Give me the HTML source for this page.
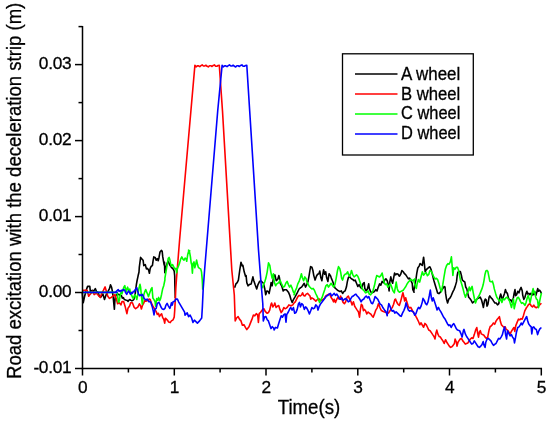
<!DOCTYPE html>
<html><head><meta charset="utf-8"><title>Road excitation</title>
<style>html,body{margin:0;padding:0;background:#fff}svg{display:block}</style></head>
<body>
<svg width="550" height="422" viewBox="0 0 550 422">
<rect width="550" height="422" fill="#fff"/>
<g>
<polyline points="82.2,292.4 82.7,298.4 83.3,302.7 84.4,297.3 86.0,290.7 87.6,286.4 89.8,286.4 90.4,291.8 91.5,290.7 92.5,290.2 93.6,291.3 95.3,288.6 96.4,291.3 98.0,292.4 99.4,296.2 100.7,297.3 101.8,295.6 102.9,294.0 104.5,299.4 105.6,296.2 106.7,293.4 108.4,290.7 109.5,288.6 110.5,284.7 111.6,287.4 112.5,291.8 113.3,298.4 114.4,309.3 114.7,303.3 115.3,296.6 116.3,294.8 117.2,294.8 118.6,294.3 120.1,295.2 121.5,295.7 122.4,298.1 123.4,297.6 124.3,299.5 125.7,300.0 127.2,300.4 128.1,301.4 129.1,300.0 130.0,299.5 131.0,300.4 131.9,300.9 132.8,300.4 133.8,299.5 134.6,296.6 135.2,293.8 135.7,290.0 136.4,284.3 137.1,280.5 138.1,275.8 139.0,272.0 139.3,267.3 140.6,257.4 142.0,259.1 143.1,260.2 143.8,265.6 145.3,264.6 146.4,268.9 147.4,268.4 148.6,270.0 149.4,273.3 150.2,268.4 151.3,266.2 152.4,265.6 153.1,260.7 153.8,256.9 155.1,257.4 156.2,260.2 157.3,258.6 158.2,260.7 158.9,258.0 160.0,252.0 161.3,250.4 162.2,251.4 162.7,256.4 163.6,261.8 164.2,265.1 164.5,262.4 164.8,272.7 165.4,268.4 166.0,267.3 167.1,263.4 168.2,261.3 169.8,265.1 171.4,267.3 173.1,268.9 174.2,271.1 174.7,276.0 174.9,285.8 175.3,298.0" fill="none" stroke="#000" stroke-width="1.6" stroke-linejoin="round" stroke-linecap="butt"/>
<polyline points="234.6,287.8 235.9,283.9 237.2,282.6 238.4,280.1 239.7,270.5 241.0,262.2 242.3,266.0 242.9,265.4 244.2,271.8 245.5,276.2 246.1,275.6 246.8,282.6 248.0,285.8 249.3,284.6 251.2,283.9 252.1,280.1 252.9,276.9 253.8,280.7 255.1,284.6 256.7,289.0 258.0,284.6 259.6,281.4 260.8,280.7 262.1,282.0 263.4,283.3 264.7,288.4 265.7,294.8 267.0,290.9 268.5,291.6 269.1,293.5 270.4,287.1 271.1,282.6 272.1,285.8 273.0,280.7 273.9,275.6 274.9,274.9 276.2,280.7 277.7,279.4 278.8,275.6 279.4,277.5 280.3,283.3 281.9,286.5 283.2,290.9 284.5,289.7 286.4,289.7 288.4,292.2 289.6,294.8 290.9,299.3 292.2,302.5 293.3,299.9 295.2,296.7 297.2,292.9 299.1,289.0 300.4,287.8 301.6,287.1 302.9,285.2 304.2,283.3 305.5,287.1 306.8,284.6 308.0,281.4 309.1,275.6 309.9,270.5 310.6,266.6 311.9,267.3 312.9,270.5 313.8,275.6 315.1,280.1 316.4,276.2 317.6,274.3 318.9,273.7 319.8,271.1 320.8,277.5 321.9,280.7 322.8,274.3 323.6,269.8 324.7,274.3 325.7,271.8 326.6,277.5 327.9,281.4 329.1,273.7 330.4,275.6 331.3,278.1 332.4,280.7 333.6,283.9 334.9,287.8 336.2,289.0 337.5,290.3 338.8,290.9 340.0,291.6 341.3,290.9 342.6,293.5 343.9,291.6 345.1,290.9 346.4,287.1 347.4,281.4 348.4,277.5 349.6,276.2 350.1,277.5 351.4,278.8 352.7,279.4 354.0,280.7 355.2,280.1 356.5,283.3 357.8,286.5 359.1,284.6 360.4,287.1 361.6,288.4 362.9,283.9 364.2,282.6 364.8,288.4 366.1,290.9 367.4,289.0 368.7,283.9 369.3,288.4 370.6,291.6 371.9,292.9 373.1,292.2 374.4,291.6 375.7,289.7 377.0,290.9 378.3,287.1 379.6,283.9 380.8,285.2 382.1,281.4 383.4,282.6 384.7,280.1 385.9,278.8 387.2,280.7 388.5,285.8 389.1,290.9 389.8,282.0 390.8,276.9 391.7,280.7 392.6,283.3 393.6,278.1 394.6,273.0 395.6,274.9 396.8,273.7 398.1,274.3 399.4,276.2 400.7,274.3 401.9,270.5 403.2,271.8 404.5,273.7 405.8,274.9 407.1,276.9 408.4,278.8 409.6,278.1 410.9,280.7 412.2,283.3 412.8,289.7 414.1,292.2 413.7,291.7 414.6,285.9 415.9,279.6 416.8,273.1 417.8,268.0 419.1,266.1 420.1,263.6 421.0,264.2 422.3,265.5 423.6,257.2 424.4,264.2 425.2,271.9 426.1,269.9 427.4,268.7 428.7,267.4 429.9,266.8 431.2,269.9 432.5,275.1 433.8,280.2 435.1,284.7 436.4,289.1 437.6,293.0 438.9,293.6 440.2,292.4 441.5,290.4 442.8,288.5 444.0,286.6 445.0,287.0 445.6,293.4 446.5,299.1 447.6,303.0 448.8,299.1 450.1,297.9 451.4,295.3 452.7,292.1 454.0,289.6 455.2,286.4 456.5,281.9 457.2,275.5 457.8,272.3 459.1,271.6 460.4,271.6 461.4,275.5 462.3,279.9 463.6,281.2 464.8,281.9 465.7,287.0 466.8,288.9 467.8,293.4 468.7,297.2 469.9,298.5 471.2,300.4 472.5,303.0 473.8,301.7 475.7,300.4 477.6,298.5 478.9,297.9 480.2,297.2 481.5,299.8 482.8,304.9 483.4,307.5 484.4,301.1 485.3,299.1 486.2,299.8 487.0,306.2 487.9,304.3 489.1,297.2 489.8,295.9 491.1,297.9 492.4,299.1 493.6,301.1 494.9,303.0 496.2,303.0 497.5,304.9 498.8,303.6 499.8,297.2 500.7,294.0 501.6,297.2 502.6,299.8 503.6,295.9 504.5,293.4 505.4,289.6 506.2,292.1 507.4,293.4 508.4,297.9 509.6,300.4 510.9,299.8 512.2,302.4 513.5,297.2 514.1,293.4 515.0,289.6 515.6,295.6 516.7,294.6 517.8,291.3 518.9,292.9 520.0,289.6 521.1,287.4 522.2,290.7 522.7,295.1 523.8,299.4 524.9,297.3 526.0,293.4 526.9,291.3 527.6,294.0 528.7,293.4 529.8,294.6 530.9,293.4 532.0,295.1 532.8,293.4 533.6,294.6 534.7,291.8 535.8,295.6 536.9,291.8 537.7,288.6 538.5,291.3 539.6,290.2 540.7,291.8 541.3,293.4" fill="none" stroke="#000" stroke-width="1.6" stroke-linejoin="round" stroke-linecap="butt"/>
<polyline points="82.2,290.7 83.8,290.2 85.5,290.2 87.1,290.2 88.7,296.2 89.8,294.6 90.9,293.4 92.5,291.3 94.2,294.6 96.4,292.9 98.5,295.6 100.2,297.3 101.8,293.4 103.5,290.2 105.1,286.9 106.2,290.7 107.8,296.2 109.5,298.4 111.6,297.3 113.3,295.6 114.9,294.6 116.5,299.4 117.6,303.8 119.3,302.7 120.9,304.9 122.0,301.6 123.6,301.6 125.3,307.1 126.9,313.6 128.0,308.2 129.6,306.0 130.7,302.7 132.4,302.7 134.0,307.1 135.6,308.7 137.8,307.1 139.4,303.8 140.4,305.6 141.4,308.9 142.6,305.1 143.6,303.4 144.7,300.7 145.8,301.3 146.9,300.7 148.0,300.2 149.1,299.1 150.2,299.6 151.3,302.9 152.9,306.2 154.6,308.9 156.2,311.6 157.3,314.4 158.4,313.3 159.4,316.6 160.6,314.9 161.6,313.8 162.7,317.6 163.8,319.3 164.7,323.1 165.4,318.2 167.1,319.8 168.7,322.0 170.2,322.6 171.4,320.9 173.1,319.8 174.2,317.1 174.7,310.6 175.3,299.6 175.8,288.7 176.4,280.0 179.6,240.0 194.9,65.3 196.1,66.8 197.3,65.9 198.6,65.9 199.8,66.7 201.0,65.7 202.2,64.9 203.4,66.0 204.7,66.0 205.9,65.2 207.1,66.3 208.3,66.9 209.5,65.7 210.8,65.7 212.0,66.5 213.2,65.4 214.4,64.9 215.6,66.2 216.9,66.2 218.1,65.5 219.3,65.3 222.5,111.0 231.8,270.0 234.3,295.0 235.2,320.9 236.6,318.0 238.1,316.6 239.6,319.4 241.0,320.9 242.4,325.3 243.9,324.6 245.4,327.4 246.8,329.6 249.0,326.7 250.4,323.1 251.9,319.4 253.4,315.1 254.8,315.8 256.3,313.6 257.7,315.1 258.4,322.4 259.2,313.6 260.6,312.2 262.8,309.3 264.0,308.8 265.2,311.4 267.2,313.3 268.4,312.6 269.7,310.1 271.0,304.3 271.6,303.0 272.9,306.9 274.2,304.9 274.8,303.0 276.1,307.5 277.4,306.2 278.7,305.6 279.9,309.4 281.2,312.6 282.5,310.7 283.8,307.5 285.1,308.8 286.4,308.1 287.6,306.9 288.9,304.9 290.2,305.6 291.5,305.6 292.8,304.9 294.0,303.0 295.3,301.8 296.6,299.2 297.9,296.6 299.1,295.4 300.4,296.0 301.7,294.7 302.6,292.8 303.6,295.4 304.9,296.0 306.2,294.1 307.5,293.4 308.8,294.7 310.0,296.0 310.7,299.2 311.9,297.9 313.2,298.6 314.5,299.8 315.8,301.1 317.1,299.8 318.4,298.6 319.6,299.2 320.9,300.5 322.2,299.8 323.5,299.2 325.0,297.9 325.2,296.6 326.5,295.4 327.8,294.7 329.7,294.1 331.0,297.3 332.3,299.2 333.6,301.8 334.2,299.2 335.5,302.4 336.8,299.2 338.0,297.3 339.3,299.2 340.6,296.0 341.9,299.2 343.1,302.4 344.4,303.7 345.7,301.8 347.0,297.3 348.3,296.0 349.6,299.2 350.8,301.1 352.1,304.9 353.4,301.8 354.7,306.2 355.9,308.1 357.2,310.1 358.5,312.0 359.5,317.1 360.4,309.4 361.3,304.3 362.4,305.6 363.4,310.7 364.3,309.4 365.6,310.7 366.8,313.9 368.1,312.0 369.4,313.3 370.7,313.9 371.9,315.8 373.2,317.1 374.5,313.9 375.8,310.1 377.1,308.1 378.4,303.7 378.8,304.2 380.1,308.0 381.4,310.6 382.7,311.2 384.6,311.9 386.5,312.5 388.4,313.1 389.7,311.2 391.0,309.3 392.3,307.4 393.6,304.2 394.8,299.7 395.5,299.1 396.8,302.3 398.0,304.2 399.3,305.5 400.6,301.6 401.9,296.5 402.9,292.7 403.8,296.5 404.7,301.0 405.7,297.8 406.7,301.6 408.0,305.5 409.3,308.0 410.8,307.4 412.1,309.9 413.4,312.5 414.7,313.8 415.9,316.4 417.2,318.9 418.5,321.5 419.8,324.7 421.1,322.8 422.4,325.3 423.6,327.2 424.9,323.4 425.0,323.7 426.3,324.9 427.6,327.5 428.8,330.1 430.1,330.7 431.4,332.6 432.7,334.6 434.0,336.5 435.0,339.0 435.9,333.3 436.8,330.1 437.8,333.9 439.1,336.5 440.4,337.1 441.6,339.0 442.9,340.9 444.2,343.5 445.5,339.7 446.8,342.2 448.0,344.1 449.3,346.1 450.6,347.4 451.9,346.7 453.1,345.4 454.4,343.5 455.1,339.0 456.4,342.2 457.0,346.1 458.0,342.2 458.9,340.9 460.2,339.0 461.5,338.4 462.8,340.9 464.0,342.2 465.3,344.1 466.6,343.5 467.9,342.9 469.1,340.9 470.4,339.0 471.7,337.8 473.0,338.4 474.3,334.6 475.6,330.1 476.8,327.5 477.7,333.3 478.5,337.1 479.4,332.0 480.3,330.7 481.3,333.9 482.6,334.6 483.9,335.2 485.1,337.1 486.4,338.4 487.7,337.1 488.4,333.3 489.2,329.4 490.3,326.2 490.9,326.2 492.2,324.9 493.4,323.0 494.7,324.3 496.0,321.1 497.3,319.2 498.6,317.9 499.4,316.6 500.5,321.8 501.5,324.9 502.8,326.2 504.1,327.5 505.3,326.9 506.2,329.4 507.5,330.1 508.8,332.0 510.1,333.9 511.4,331.4 512.6,329.4 513.9,327.5 514.8,331.4 515.8,325.6 517.1,322.4 518.4,319.2 519.7,319.8 521.0,318.6 522.2,319.2 523.5,315.4 524.8,310.9 526.1,308.3 527.4,306.4 528.6,304.5 529.9,303.8 531.2,305.8 532.5,307.0 533.8,305.1 535.0,307.0 536.3,307.7 537.6,307.0 538.9,305.8 540.1,304.5 541.4,303.2" fill="none" stroke="#ff0000" stroke-width="1.6" stroke-linejoin="round" stroke-linecap="butt"/>
<polyline points="82.0,292.4 117.0,292.4 117.2,292.4 117.7,296.6 118.5,302.3 119.4,300.4 120.1,295.7 121.0,292.4 122.0,293.8 122.9,290.0 123.8,287.2 124.8,285.7 125.5,289.1 126.2,291.9 127.0,288.6 127.6,287.2 128.3,289.5 129.1,291.9 129.8,289.1 130.5,292.9 131.4,294.8 132.4,297.1 133.3,298.5 134.3,295.7 135.2,294.8 136.2,297.6 136.8,299.5 137.6,295.7 138.3,291.9 139.0,288.1 140.0,284.3 140.6,287.2 141.2,293.8 141.9,300.4 142.3,304.2 143.1,298.5 143.8,294.8 144.7,291.9 145.7,289.5 146.6,291.9 147.6,294.3 148.5,296.6 149.4,293.8 150.4,291.0 151.3,288.6 152.0,287.6 152.9,298.0 154.0,299.6 155.1,301.8 155.6,306.2 156.7,298.6 157.8,300.2 158.6,297.4 159.7,300.7 160.6,298.6 161.6,294.2 162.7,288.7 163.8,285.4 164.9,280.0 164.9,278.2 166.0,271.6 167.1,265.1 168.2,258.6 169.1,257.4 169.8,259.6 170.6,263.4 171.4,266.2 172.6,264.6 173.6,266.7 174.7,268.9 175.8,268.4 176.7,272.7 177.4,268.4 178.6,265.6 179.6,262.9 180.7,259.1 181.8,256.9 182.9,259.1 184.0,260.2 185.1,258.0 186.2,259.1 186.7,261.3 187.8,254.2 188.9,250.4 189.8,250.9 188.5,250.1 189.5,251.8 190.4,256.6 191.2,263.1 191.8,264.9 192.4,273.1 193.0,263.7 194.0,261.9 194.8,267.8 195.6,264.9 196.6,260.1 197.5,264.3 198.3,267.2 199.5,268.4 200.7,269.0 201.5,271.9 202.2,279.1 202.5,285.0 202.7,289.7" fill="none" stroke="#00ff00" stroke-width="1.6" stroke-linejoin="round" stroke-linecap="butt"/>
<polyline points="262.5,288.4 262.9,285.8 264.7,282.0 265.9,278.1 267.2,271.8 268.5,262.8 269.8,265.4 270.8,271.8 272.1,278.1 273.4,273.7 274.3,282.0 275.6,285.8 276.8,283.9 278.8,282.6 280.0,280.1 281.3,283.3 283.2,287.1 284.5,286.5 285.8,283.3 287.1,281.4 288.4,284.6 289.6,287.1 290.9,285.2 292.2,288.4 293.5,292.2 294.7,293.5 294.0,294.8 295.2,290.9 296.5,288.4 297.8,283.9 299.1,281.4 300.4,277.5 301.4,273.7 302.3,277.5 303.6,280.7 304.8,276.9 306.1,278.8 307.0,282.0 308.0,283.9 309.3,286.5 310.6,287.8 311.9,289.0 313.1,288.4 314.4,290.3 315.7,293.5 317.0,296.1 318.3,299.3 319.6,302.5 320.8,299.9 322.1,297.4 323.4,293.5 324.7,289.7 325.9,285.8 327.2,284.6 328.5,287.1 329.8,285.2 331.1,283.3 332.4,285.2 333.6,287.1 334.9,284.6 336.2,278.1 337.5,270.5 338.5,266.6 339.8,268.6 340.7,272.4 341.6,278.1 342.6,280.1 343.9,275.6 345.1,274.3 346.4,273.7 347.7,271.8 348.4,274.3 349.6,276.2 350.9,272.4 351.5,270.5 352.8,274.9 354.1,276.9 355.0,276.2 356.5,274.9 357.8,276.2 359.1,279.4 360.4,283.3 361.6,287.1 362.9,289.7 364.2,290.9 365.5,292.9 366.8,292.2 368.0,290.9 369.3,294.1 370.6,294.8 371.9,292.9 373.1,290.3 374.4,285.8 375.7,279.4 376.7,275.6 378.0,276.2 379.6,276.9 380.8,275.6 382.1,273.0 383.1,277.5 384.0,282.0 385.3,284.6 386.6,283.9 387.9,287.1 389.1,285.8 390.4,283.9 391.7,287.1 393.0,290.9 394.3,292.9 395.6,285.8 396.2,282.0 397.2,288.4 398.1,290.9 399.4,292.2 400.7,291.6 401.9,290.9 403.2,290.3 404.5,288.4 405.8,286.5 407.1,283.9 408.4,282.0 409.6,280.7 410.9,279.4 412.2,280.7 413.5,280.1 415.0,278.8 414.0,281.5 415.2,285.9 416.3,288.5 417.2,283.4 418.4,279.6 419.7,282.1 421.0,277.0 422.3,271.9 423.6,275.1 424.8,273.8 426.1,272.5 427.4,275.7 428.7,274.4 429.9,270.6 431.2,271.2 432.5,273.8 433.8,277.0 435.1,278.9 436.4,278.3 437.6,279.6 438.9,283.4 440.2,288.5 441.5,291.7 442.8,284.7 444.0,277.0 445.3,269.3 446.6,265.5 447.9,263.6 449.1,264.2 450.4,261.6 451.4,256.9 452.0,264.0 452.9,275.5 453.7,267.8 455.0,269.1 456.3,267.2 457.5,267.2 458.4,269.7 459.3,274.2 460.4,279.9 461.6,283.8 462.9,288.3 464.2,293.4 465.5,297.2 466.8,293.4 468.0,292.1 469.3,287.0 470.3,290.8 471.2,288.3 472.1,286.4 473.1,292.1 474.4,298.5 475.5,303.0 476.7,299.8 478.0,297.2 479.3,295.3 480.6,292.1 481.9,288.9 483.1,285.1 484.0,280.6 484.9,274.8 485.9,271.0 487.0,270.4 487.9,271.6 488.8,276.1 489.8,281.2 491.1,281.9 492.4,281.2 493.4,284.4 494.3,288.9 495.6,293.4 496.8,297.2 498.1,299.1 499.4,301.1 500.7,299.1 501.9,302.4 503.2,298.5 504.5,299.8 505.8,297.9 507.1,297.2 508.4,299.1 509.6,301.1 510.9,305.6 511.5,307.5 512.8,301.1 513.5,298.9 514.2,308.7 515.1,304.9 516.2,300.6 517.3,297.8 518.4,297.3 519.5,299.4 520.5,301.6 521.6,303.3 522.7,302.7 523.8,303.8 524.9,305.4 526.0,302.7 527.1,298.4 528.2,295.6 529.3,299.4 530.1,302.7 531.2,297.3 532.3,291.8 533.1,288.6 533.9,292.9 534.7,291.3 535.6,296.7 536.4,298.9 537.5,300.0 538.5,307.6 539.6,301.6 540.7,296.2 541.5,292.9" fill="none" stroke="#00ff00" stroke-width="1.6" stroke-linejoin="round" stroke-linecap="butt"/>
<polyline points="82.0,292.4 117.0,292.4 115.8,291.9 117.2,290.5 118.2,289.5 119.1,291.4 120.1,290.5 121.0,291.4 122.0,290.0 122.9,290.5 123.8,289.5 124.8,290.5 125.7,292.9 126.7,294.3 127.6,292.4 128.6,291.0 129.5,292.4 130.5,294.3 131.4,292.4 132.4,293.3 133.3,291.4 134.3,291.9 135.2,289.5 136.2,288.6 136.8,287.6 137.6,291.0 138.5,293.8 139.5,295.7 140.4,294.8 141.4,295.7 142.3,294.3 143.3,296.2 144.2,298.5 145.2,299.5 146.1,300.0 147.1,299.0 148.0,300.4 149.0,301.9 149.9,301.4 150.9,302.3 151.3,304.0 152.4,307.3 153.4,311.6 154.0,314.9 154.9,309.4 156.2,308.4 157.3,303.4 158.9,302.4 160.0,304.6 161.1,307.3 162.2,308.9 163.8,309.4 164.9,308.4 166.0,305.1 167.1,303.4 168.2,305.6 169.8,308.4 170.6,306.2 171.4,302.9 172.3,305.1 173.1,301.8 174.7,301.3 175.8,299.1 177.4,299.1 178.6,301.8 180.2,304.6 182.4,308.4 184.6,312.2 185.0,315.1 187.2,312.9 188.6,316.6 190.1,315.1 191.6,318.0 193.0,322.4 194.4,320.2 195.9,321.6 197.4,323.1 199.6,320.9 201.7,318.0 202.4,306.4 203.2,288.9 204.6,270.0 217.7,111.0 222.1,65.3 223.3,66.8 224.6,65.9 225.8,65.9 227.0,66.7 228.3,65.7 229.5,64.9 230.8,66.0 232.0,66.0 233.2,65.2 234.4,66.3 235.7,66.9 236.9,65.7 238.1,65.7 239.4,66.5 240.6,65.4 241.9,64.9 243.1,66.2 244.3,66.2 245.6,65.5 246.8,65.3 249.7,111.0 258.5,250.0 260.8,280.0 262.8,303.7 263.3,320.9 264.6,317.1 265.9,316.5 267.2,319.7 268.4,320.9 269.7,324.8 271.0,328.6 272.3,326.7 273.6,328.0 274.2,329.9 275.5,327.4 277.4,328.0 278.7,323.5 279.9,319.7 281.2,315.8 282.5,317.1 283.8,314.6 285.1,313.9 286.0,322.2 286.7,314.6 288.3,312.0 289.8,308.8 290.8,307.5 292.1,310.1 293.4,307.5 294.7,313.3 295.9,312.6 297.2,309.4 298.5,303.7 299.5,302.4 300.4,306.9 301.7,303.7 303.0,304.9 304.3,309.4 305.6,306.9 306.8,308.1 308.1,310.7 309.4,313.9 310.7,310.7 311.9,307.5 313.2,308.8 314.5,308.1 315.8,304.9 317.1,306.2 318.0,310.1 319.0,306.9 320.3,304.3 322.2,301.8 324.1,299.2 325.0,297.9 325.2,297.9 326.5,296.0 327.8,295.4 329.1,294.1 330.4,293.4 331.6,296.0 332.9,294.7 334.2,293.4 335.5,295.4 336.8,294.1 338.0,296.0 339.3,298.6 340.6,299.2 341.9,297.9 343.1,300.5 344.4,299.2 345.7,298.6 347.0,299.8 348.3,301.8 349.6,301.1 350.8,298.6 352.1,296.6 353.4,296.0 354.7,294.7 355.9,294.1 357.2,296.0 358.5,297.3 359.8,299.2 361.1,301.8 362.4,299.8 363.6,299.2 364.9,297.3 366.2,296.0 367.5,297.9 368.8,296.6 370.0,299.8 371.3,303.0 372.6,303.7 373.9,300.5 375.1,296.6 376.4,297.9 377.7,299.2 379.0,301.8 380.3,304.3 381.5,304.9 382.8,307.5 384.1,309.4 385.0,310.7 385.2,310.6 386.5,313.1 387.2,315.7 387.8,309.3 388.8,303.6 389.7,305.5 391.0,309.3 392.3,311.2 393.6,310.6 394.8,313.1 396.1,311.9 397.4,313.1 398.7,314.4 399.9,315.7 401.2,316.4 402.5,313.1 403.8,310.6 405.1,307.4 406.0,302.9 407.0,306.1 408.3,309.9 409.6,311.2 410.8,310.6 412.1,311.2 413.4,311.9 414.7,315.1 415.9,313.8 417.2,309.9 418.5,307.4 419.8,308.7 421.1,306.1 422.4,301.6 423.0,298.4 424.3,300.4 425.6,303.6 426.8,304.8 428.1,301.6 429.4,295.2 430.3,290.1 431.3,297.2 432.3,301.0 433.2,297.8 434.5,301.6 435.8,305.5 437.1,309.9 438.4,307.4 439.6,309.9 440.9,311.9 442.2,314.4 443.5,317.0 445.0,318.9 446.1,321.1 447.4,323.7 448.7,325.6 449.9,324.9 451.2,327.5 452.5,324.9 453.8,323.7 455.1,326.2 456.4,328.8 457.6,330.1 459.6,330.7 460.8,333.3 462.1,337.1 463.4,330.7 464.0,329.4 465.3,333.9 466.6,336.5 467.9,338.4 469.1,340.3 470.4,342.2 471.7,344.1 473.0,343.5 474.3,340.9 475.6,342.9 476.8,344.8 478.1,346.7 479.4,347.4 480.7,346.1 481.9,344.8 483.2,341.6 483.9,344.8 485.1,347.4 485.8,342.2 487.1,339.0 488.4,338.4 489.6,339.7 490.9,340.9 492.2,343.5 493.5,345.4 495.0,344.1 496.0,343.5 497.3,340.9 498.6,338.4 499.8,339.0 501.1,337.1 502.4,334.6 503.7,329.4 504.6,326.9 505.6,334.6 506.6,339.0 507.5,330.7 508.8,333.3 510.1,335.8 511.4,334.6 512.6,337.1 513.9,339.0 514.5,342.9 515.6,337.1 516.5,332.0 517.8,327.5 519.0,326.9 520.3,324.9 521.2,323.0 522.2,324.9 523.5,322.4 524.8,319.8 526.1,317.3 526.7,316.6 527.6,320.5 528.6,323.7 529.9,325.6 531.2,326.9 531.8,333.9 532.7,327.5 533.8,326.9 535.0,328.8 536.3,329.4 537.6,334.6 538.6,331.4 539.9,328.8 541.4,327.5" fill="none" stroke="#0000ff" stroke-width="1.6" stroke-linejoin="round" stroke-linecap="butt"/>
</g>
<g stroke="#000" stroke-width="1.5" fill="none"><line x1="82.5" y1="25.9" x2="82.5" y2="369.25"/><line x1="81.75" y1="368.5" x2="542.05" y2="368.5"/><line x1="82.5" y1="368.5" x2="82.5" y2="375.5"/><line x1="128.4" y1="368.5" x2="128.4" y2="372.5"/><line x1="174.3" y1="368.5" x2="174.3" y2="375.5"/><line x1="220.1" y1="368.5" x2="220.1" y2="372.5"/><line x1="266.0" y1="368.5" x2="266.0" y2="375.5"/><line x1="311.9" y1="368.5" x2="311.9" y2="372.5"/><line x1="357.8" y1="368.5" x2="357.8" y2="375.5"/><line x1="403.7" y1="368.5" x2="403.7" y2="372.5"/><line x1="449.5" y1="368.5" x2="449.5" y2="375.5"/><line x1="495.4" y1="368.5" x2="495.4" y2="372.5"/><line x1="541.3" y1="368.5" x2="541.3" y2="375.5"/><line x1="75.0" y1="368.5" x2="82.5" y2="368.5"/><line x1="78.5" y1="330.5" x2="82.5" y2="330.5"/><line x1="75.0" y1="292.5" x2="82.5" y2="292.5"/><line x1="78.5" y1="254.5" x2="82.5" y2="254.5"/><line x1="75.0" y1="216.6" x2="82.5" y2="216.6"/><line x1="78.5" y1="178.6" x2="82.5" y2="178.6"/><line x1="75.0" y1="140.6" x2="82.5" y2="140.6"/><line x1="78.5" y1="102.6" x2="82.5" y2="102.6"/><line x1="75.0" y1="64.6" x2="82.5" y2="64.6"/><line x1="78.5" y1="26.6" x2="82.5" y2="26.6"/></g>
<g font-family="Liberation Sans, Arial, sans-serif" font-size="17.3" fill="#000" stroke="#000" stroke-width="0.3" letter-spacing="-0.3"><text x="82.6" y="392.8" text-anchor="middle">0</text><text x="174.4" y="392.8" text-anchor="middle">1</text><text x="266.1" y="392.8" text-anchor="middle">2</text><text x="357.9" y="392.8" text-anchor="middle">3</text><text x="449.6" y="392.8" text-anchor="middle">4</text><text x="541.4" y="392.8" text-anchor="middle">5</text><text x="71.3" y="373.1" text-anchor="end">-0.01</text><text x="71.3" y="297.1" text-anchor="end">0.00</text><text x="71.3" y="221.2" text-anchor="end">0.01</text><text x="71.3" y="145.2" text-anchor="end">0.02</text><text x="71.3" y="69.2" text-anchor="end">0.03</text></g>
<text x="309.0" y="414.0" font-family="Liberation Sans, Arial, sans-serif" font-size="20" stroke="#000" stroke-width="0.3" text-anchor="middle" textLength="62.6" lengthAdjust="spacingAndGlyphs">Time(s)</text>
<text transform="translate(20.7,379) rotate(-90)" font-family="Liberation Sans, Arial, sans-serif" font-size="20" stroke="#000" stroke-width="0.3" textLength="376.3" lengthAdjust="spacingAndGlyphs">Road excitation with the deceleration strip (m)</text>
<rect x="342.5" y="53.8" width="130.8" height="101.2" fill="#fff" stroke="#000" stroke-width="1.3"/>
<line x1="355" y1="74.1" x2="397.5" y2="74.1" stroke="#000" stroke-width="1.5"/>
<text x="401" y="79.5" font-family="Liberation Sans, Arial, sans-serif" font-size="18" stroke="#000" stroke-width="0.3" textLength="59.3" lengthAdjust="spacingAndGlyphs">A wheel</text>
<line x1="355" y1="94.1" x2="397.5" y2="94.1" stroke="#ff0000" stroke-width="1.5"/>
<text x="401" y="99.5" font-family="Liberation Sans, Arial, sans-serif" font-size="18" stroke="#000" stroke-width="0.3" textLength="59.3" lengthAdjust="spacingAndGlyphs">B wheel</text>
<line x1="355" y1="114.1" x2="397.5" y2="114.1" stroke="#00ff00" stroke-width="1.5"/>
<text x="401" y="119.4" font-family="Liberation Sans, Arial, sans-serif" font-size="18" stroke="#000" stroke-width="0.3" textLength="59.3" lengthAdjust="spacingAndGlyphs">C wheel</text>
<line x1="355" y1="134.1" x2="397.5" y2="134.1" stroke="#0000ff" stroke-width="1.5"/>
<text x="401" y="139.4" font-family="Liberation Sans, Arial, sans-serif" font-size="18" stroke="#000" stroke-width="0.3" textLength="59.3" lengthAdjust="spacingAndGlyphs">D wheel</text>
</svg>
</body></html>
